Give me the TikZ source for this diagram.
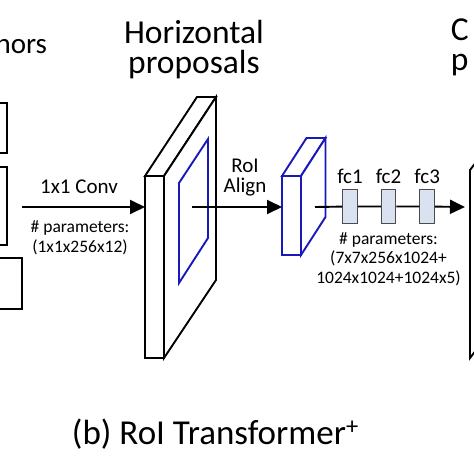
\documentclass[tikz,border=0pt]{standalone}
\usepackage{fontspec}
\setmainfont{Carlito}
\usepackage{tikz}
\usetikzlibrary{
  arrows.meta,
  positioning
}
\tikzset{
  every picture/.style={x=1pt,y=-1pt,line width=1.9pt,line join=miter},
  slab/.style={draw,fill=white},
  roi/.style={draw=roiblue},
  flow/.style={-{Triangle[length=15pt,width=14pt]}},
  fcbox/.style={draw=black!70,fill=fcfill,line width=1pt,minimum width=14.5pt,minimum height=34pt,inner sep=0pt},
  title/.style={font=\fontsize{33.5}{30}\selectfont,align=center,inner sep=0pt},
  lbl/.style={font=\fontsize{21}{20}\selectfont,align=center,inner sep=0pt},
  note/.style={font=\fontsize{17.5}{19.5}\selectfont,align=center,inner sep=0pt},
}
\definecolor{roiblue}{RGB}{25,25,185}
\definecolor{fcfill}{RGB}{218,225,241}

\begin{document}
\begin{tikzpicture}
\useasboundingbox (0,0) rectangle (474,474);
% anchors (cut at the left edge)
\draw[slab] (-30,103) rectangle (7,153);
\draw[slab] (-30,167) rectangle (7,245);
\draw[slab] (-30,258) rectangle (22,309);
\node[title,anchor=base east,font=\fontsize{29}{30}\selectfont] (anc) at (48,53) {nors};
% horizontal proposals
\draw[slab] (145,176) -- (197,97) -- (216,97) -- (164,176) -- cycle;
\draw[slab] (164,176) -- (216,97) -- (216,280) -- (164,358) -- cycle;
\draw[slab] (145,176) rectangle (164,358);
\draw[roi] (179,183) -- (208,139) -- (208,238) -- (179,283) -- cycle;
\node[title] (hprop) at (194,50) {Horizontal\\proposals};
% pooled feature
\draw[slab,draw=roiblue] (282,176) -- (306.5,138) -- (325.5,138) -- (301,176) -- cycle;
\draw[slab,draw=roiblue] (301,176) -- (325.5,138) -- (325.5,217) -- (301,255) -- cycle;
\draw[slab,draw=roiblue] (282,176) rectangle (301,255);
% next stage (cut at the right edge)
\draw (475,163.5) -- (470,170) -- (470,358) -- (475,351.5);
\node[title,anchor=north west,align=left] (oprop) at (450,18) {C\\p};

\coordinate (anc-out) at (22,207);
\coordinate (hprop-in) at (145,207);
\coordinate (roi-src) at (192,207);
\coordinate (feat-in) at (282,207);
\coordinate (feat-out) at (315,207);
\coordinate (oprop-in) at (465,207);

\draw[flow] (anc-out) -- (hprop-in);
\draw[flow] (roi-src) -- (feat-in);
\node[lbl,anchor=base] (conv) at (79,193) {1x1 Conv};
\node[note] (convpar) at (80,238) {\# parameters:\\(1x1x256x12)};
\node[lbl] (align) at (245,178) {RoI\\Align};

% fully connected layers
\foreach \i/\xx in {1/350,2/388.5,3/427.2}
{
  \node[fcbox] (fc\i) at (\xx,206.5) {};
  \node[lbl,anchor=base] (fc\i-lbl) at (\xx,183.5) {fc\i};
}
\draw (feat-out) -- (fc1) -- (fc2) -- (fc3);
\draw[flow] (fc3) -- (oprop-in);
\node[note] (fcpar) at (388.5,259) {\# parameters:\\(7x7x256x1024+\\1024x1024+1024x5)};

\node[anchor=base west,inner sep=0pt,font=\fontsize{35}{35}\selectfont] (cap) at (71,444) {(b) RoI Transformer\textsuperscript{+}};
\end{tikzpicture}
\end{document}
